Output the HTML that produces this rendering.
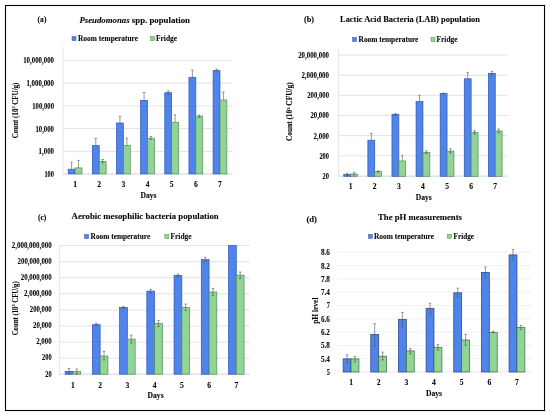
<!DOCTYPE html>
<html><head><meta charset="utf-8"><style>
html,body{margin:0;padding:0;background:#fff;}
body{width:550px;height:416px;overflow:hidden;position:relative;}
svg{position:absolute;left:0;top:0;will-change:transform;}
text{font-family:"Liberation Serif", serif;fill:#000;stroke:#000;stroke-width:0.08px;}
</style></head><body>
<svg width="550" height="416" viewBox="0 0 550 416">
<rect x="5.5" y="5.5" width="539" height="405" fill="none" stroke="#000" stroke-width="1.1"/>
<line x1="63.00" y1="174.10" x2="232.05" y2="174.10" stroke="#E2E2E2" stroke-width="1.0"/>
<text x="54.00" y="177.00" font-size="7.6" text-anchor="end" font-weight="bold" textLength="9.60" lengthAdjust="spacingAndGlyphs">100</text>
<line x1="63.00" y1="151.36" x2="232.05" y2="151.36" stroke="#E2E2E2" stroke-width="1.0"/>
<text x="54.00" y="154.26" font-size="7.6" text-anchor="end" font-weight="bold" textLength="15.40" lengthAdjust="spacingAndGlyphs">1,000</text>
<line x1="63.00" y1="128.62" x2="232.05" y2="128.62" stroke="#E2E2E2" stroke-width="1.0"/>
<text x="54.00" y="131.52" font-size="7.6" text-anchor="end" font-weight="bold" textLength="18.60" lengthAdjust="spacingAndGlyphs">10,000</text>
<line x1="63.00" y1="105.88" x2="232.05" y2="105.88" stroke="#E2E2E2" stroke-width="1.0"/>
<text x="54.00" y="108.78" font-size="7.6" text-anchor="end" font-weight="bold" textLength="21.80" lengthAdjust="spacingAndGlyphs">100,000</text>
<line x1="63.00" y1="83.14" x2="232.05" y2="83.14" stroke="#E2E2E2" stroke-width="1.0"/>
<text x="54.00" y="86.04" font-size="7.6" text-anchor="end" font-weight="bold" textLength="27.60" lengthAdjust="spacingAndGlyphs">1,000,000</text>
<line x1="63.00" y1="60.40" x2="232.05" y2="60.40" stroke="#E2E2E2" stroke-width="1.0"/>
<text x="54.00" y="63.30" font-size="7.6" text-anchor="end" font-weight="bold" textLength="30.80" lengthAdjust="spacingAndGlyphs">10,000,000</text>
<line x1="63.00" y1="47.30" x2="63.00" y2="173.90" stroke="#E2E2E2" stroke-width="0.9"/>
<line x1="63.00" y1="173.90" x2="232.05" y2="173.90" stroke="#E2E2E2" stroke-width="1.0"/>
<rect x="68.17" y="169.20" width="6.90" height="4.70" fill="#4F84EA" stroke="#2E56B5" stroke-width="0.7"/>
<rect x="75.08" y="167.90" width="6.90" height="6.00" fill="#91D495" stroke="#4F8F55" stroke-width="0.7"/>
<path d="M71.62 162.10V169.20M70.42 162.10H72.83" stroke="#555555" stroke-width="0.6" fill="none"/>
<path d="M78.53 160.40V167.90M77.33 160.40H79.73" stroke="#555555" stroke-width="0.6" fill="none"/>
<text x="75.08" y="186.60" font-size="7.6" text-anchor="middle" font-weight="bold">1</text>
<rect x="92.32" y="145.60" width="6.90" height="28.30" fill="#4F84EA" stroke="#2E56B5" stroke-width="0.7"/>
<rect x="99.22" y="161.30" width="6.90" height="12.60" fill="#91D495" stroke="#4F8F55" stroke-width="0.7"/>
<path d="M95.77 138.40V145.60M94.57 138.40H96.97" stroke="#555555" stroke-width="0.6" fill="none"/>
<path d="M102.67 159.50V163.00M101.47 159.50H103.88M101.47 163.00H103.88" stroke="#555555" stroke-width="0.6" fill="none"/>
<text x="99.22" y="186.60" font-size="7.6" text-anchor="middle" font-weight="bold">2</text>
<rect x="116.47" y="123.00" width="6.90" height="50.90" fill="#4F84EA" stroke="#2E56B5" stroke-width="0.7"/>
<rect x="123.38" y="145.60" width="6.90" height="28.30" fill="#91D495" stroke="#4F8F55" stroke-width="0.7"/>
<path d="M119.92 116.30V123.00M118.72 116.30H121.12" stroke="#555555" stroke-width="0.6" fill="none"/>
<path d="M126.83 138.10V145.60M125.62 138.10H128.03" stroke="#555555" stroke-width="0.6" fill="none"/>
<text x="123.38" y="186.60" font-size="7.6" text-anchor="middle" font-weight="bold">3</text>
<rect x="140.62" y="100.40" width="6.90" height="73.50" fill="#4F84EA" stroke="#2E56B5" stroke-width="0.7"/>
<rect x="147.53" y="138.20" width="6.90" height="35.70" fill="#91D495" stroke="#4F8F55" stroke-width="0.7"/>
<path d="M144.08 92.50V100.40M142.88 92.50H145.28" stroke="#555555" stroke-width="0.6" fill="none"/>
<path d="M150.97 136.50V139.50M149.78 136.50H152.17M149.78 139.50H152.17" stroke="#555555" stroke-width="0.6" fill="none"/>
<text x="147.53" y="186.60" font-size="7.6" text-anchor="middle" font-weight="bold">4</text>
<rect x="164.78" y="92.70" width="6.90" height="81.20" fill="#4F84EA" stroke="#2E56B5" stroke-width="0.7"/>
<rect x="171.68" y="122.30" width="6.90" height="51.60" fill="#91D495" stroke="#4F8F55" stroke-width="0.7"/>
<path d="M168.23 90.80V94.50M167.03 90.80H169.43M167.03 94.50H169.43" stroke="#555555" stroke-width="0.6" fill="none"/>
<path d="M175.12 114.90V122.30M173.93 114.90H176.32" stroke="#555555" stroke-width="0.6" fill="none"/>
<text x="171.68" y="186.60" font-size="7.6" text-anchor="middle" font-weight="bold">5</text>
<rect x="188.93" y="77.30" width="6.90" height="96.60" fill="#4F84EA" stroke="#2E56B5" stroke-width="0.7"/>
<rect x="195.83" y="116.10" width="6.90" height="57.80" fill="#91D495" stroke="#4F8F55" stroke-width="0.7"/>
<path d="M192.38 70.00V77.30M191.18 70.00H193.58" stroke="#555555" stroke-width="0.6" fill="none"/>
<path d="M199.28 114.90V117.50M198.08 114.90H200.47M198.08 117.50H200.47" stroke="#555555" stroke-width="0.6" fill="none"/>
<text x="195.83" y="186.60" font-size="7.6" text-anchor="middle" font-weight="bold">6</text>
<rect x="213.08" y="70.50" width="6.90" height="103.40" fill="#4F84EA" stroke="#2E56B5" stroke-width="0.7"/>
<rect x="219.98" y="100.00" width="6.90" height="73.90" fill="#91D495" stroke="#4F8F55" stroke-width="0.7"/>
<path d="M216.53 69.10V72.00M215.33 69.10H217.73M215.33 72.00H217.73" stroke="#555555" stroke-width="0.6" fill="none"/>
<path d="M223.43 92.00V100.00M222.23 92.00H224.62" stroke="#555555" stroke-width="0.6" fill="none"/>
<text x="219.98" y="186.60" font-size="7.6" text-anchor="middle" font-weight="bold">7</text>
<text x="148.50" y="197.90" font-size="7.6" text-anchor="middle" font-weight="bold">Days</text>
<text transform="translate(17.80,110.40) rotate(-90)" x="0" y="0" font-size="7.6" text-anchor="middle" font-weight="bold" textLength="55.6" lengthAdjust="spacingAndGlyphs">Count (10<tspan dy="-2.6" font-size="4.8">3</tspan><tspan dy="2.6"> CFU/g)</tspan></text>
<text x="37.60" y="22.20" font-size="7.6" text-anchor="start" font-weight="bold" textLength="8.8" lengthAdjust="spacingAndGlyphs">(a)</text>
<text x="79.4" y="22.5" font-size="8.4" font-weight="bold" textLength="110.6" lengthAdjust="spacingAndGlyphs"><tspan font-style="italic">Pseudomonas</tspan> spp. population</text>
<rect x="72.00" y="36.60" width="4.0" height="4.0" fill="#4F84EA" stroke="#2E56B5" stroke-width="0.5"/>
<text x="78.00" y="41.20" font-size="7.6" text-anchor="start" font-weight="bold" textLength="60.0" lengthAdjust="spacingAndGlyphs">Room temperature</text>
<rect x="150.60" y="36.60" width="4.0" height="4.0" fill="#91D495" stroke="#4F8F55" stroke-width="0.5"/>
<text x="156.00" y="41.20" font-size="7.6" text-anchor="start" font-weight="bold" textLength="21.0" lengthAdjust="spacingAndGlyphs">Fridge</text>
<line x1="338.60" y1="176.00" x2="507.30" y2="176.00" stroke="#E2E2E2" stroke-width="1.0"/>
<text x="329.00" y="178.90" font-size="7.6" text-anchor="end" font-weight="bold" textLength="6.40" lengthAdjust="spacingAndGlyphs">20</text>
<line x1="338.60" y1="155.83" x2="507.30" y2="155.83" stroke="#E2E2E2" stroke-width="1.0"/>
<text x="329.00" y="158.73" font-size="7.6" text-anchor="end" font-weight="bold" textLength="9.60" lengthAdjust="spacingAndGlyphs">200</text>
<line x1="338.60" y1="135.66" x2="507.30" y2="135.66" stroke="#E2E2E2" stroke-width="1.0"/>
<text x="329.00" y="138.56" font-size="7.6" text-anchor="end" font-weight="bold" textLength="15.40" lengthAdjust="spacingAndGlyphs">2,000</text>
<line x1="338.60" y1="115.49" x2="507.30" y2="115.49" stroke="#E2E2E2" stroke-width="1.0"/>
<text x="329.00" y="118.39" font-size="7.6" text-anchor="end" font-weight="bold" textLength="18.60" lengthAdjust="spacingAndGlyphs">20,000</text>
<line x1="338.60" y1="95.32" x2="507.30" y2="95.32" stroke="#E2E2E2" stroke-width="1.0"/>
<text x="329.00" y="98.22" font-size="7.6" text-anchor="end" font-weight="bold" textLength="21.80" lengthAdjust="spacingAndGlyphs">200,000</text>
<line x1="338.60" y1="75.15" x2="507.30" y2="75.15" stroke="#E2E2E2" stroke-width="1.0"/>
<text x="329.00" y="78.05" font-size="7.6" text-anchor="end" font-weight="bold" textLength="27.60" lengthAdjust="spacingAndGlyphs">2,000,000</text>
<line x1="338.60" y1="54.98" x2="507.30" y2="54.98" stroke="#E2E2E2" stroke-width="1.0"/>
<text x="329.00" y="57.88" font-size="7.6" text-anchor="end" font-weight="bold" textLength="30.80" lengthAdjust="spacingAndGlyphs">20,000,000</text>
<line x1="338.60" y1="49.60" x2="338.60" y2="176.30" stroke="#E2E2E2" stroke-width="0.9"/>
<line x1="338.60" y1="176.30" x2="507.30" y2="176.30" stroke="#E2E2E2" stroke-width="1.0"/>
<rect x="343.76" y="174.50" width="6.89" height="1.80" fill="#4F84EA" stroke="#2E56B5" stroke-width="0.7"/>
<rect x="350.65" y="174.00" width="6.89" height="2.30" fill="#91D495" stroke="#4F8F55" stroke-width="0.7"/>
<path d="M347.21 173.30V175.50M346.01 173.30H348.41M346.01 175.50H348.41" stroke="#555555" stroke-width="0.6" fill="none"/>
<path d="M354.09 172.30V175.00M352.89 172.30H355.29M352.89 175.00H355.29" stroke="#555555" stroke-width="0.6" fill="none"/>
<text x="350.65" y="189.10" font-size="7.6" text-anchor="middle" font-weight="bold">1</text>
<rect x="367.86" y="140.20" width="6.89" height="36.10" fill="#4F84EA" stroke="#2E56B5" stroke-width="0.7"/>
<rect x="374.75" y="171.50" width="6.89" height="4.80" fill="#91D495" stroke="#4F8F55" stroke-width="0.7"/>
<path d="M371.31 133.60V140.20M370.11 133.60H372.51" stroke="#555555" stroke-width="0.6" fill="none"/>
<path d="M378.19 170.90V172.20M376.99 170.90H379.39M376.99 172.20H379.39" stroke="#555555" stroke-width="0.6" fill="none"/>
<text x="374.75" y="189.10" font-size="7.6" text-anchor="middle" font-weight="bold">2</text>
<rect x="391.96" y="114.40" width="6.89" height="61.90" fill="#4F84EA" stroke="#2E56B5" stroke-width="0.7"/>
<rect x="398.85" y="161.00" width="6.89" height="15.30" fill="#91D495" stroke="#4F8F55" stroke-width="0.7"/>
<path d="M395.41 113.40V115.50M394.21 113.40H396.61M394.21 115.50H396.61" stroke="#555555" stroke-width="0.6" fill="none"/>
<path d="M402.29 155.40V161.00M401.09 155.40H403.49" stroke="#555555" stroke-width="0.6" fill="none"/>
<text x="398.85" y="189.10" font-size="7.6" text-anchor="middle" font-weight="bold">3</text>
<rect x="416.06" y="101.50" width="6.89" height="74.80" fill="#4F84EA" stroke="#2E56B5" stroke-width="0.7"/>
<rect x="422.95" y="152.40" width="6.89" height="23.90" fill="#91D495" stroke="#4F8F55" stroke-width="0.7"/>
<path d="M419.51 95.30V101.50M418.31 95.30H420.71" stroke="#555555" stroke-width="0.6" fill="none"/>
<path d="M426.39 150.80V153.60M425.19 150.80H427.59M425.19 153.60H427.59" stroke="#555555" stroke-width="0.6" fill="none"/>
<text x="422.95" y="189.10" font-size="7.6" text-anchor="middle" font-weight="bold">4</text>
<rect x="440.16" y="93.50" width="6.89" height="82.80" fill="#4F84EA" stroke="#2E56B5" stroke-width="0.7"/>
<rect x="447.05" y="151.10" width="6.89" height="25.20" fill="#91D495" stroke="#4F8F55" stroke-width="0.7"/>
<path d="M443.61 93.00V94.00M442.41 93.00H444.81M442.41 94.00H444.81" stroke="#555555" stroke-width="0.6" fill="none"/>
<path d="M450.49 148.70V153.00M449.29 148.70H451.69M449.29 153.00H451.69" stroke="#555555" stroke-width="0.6" fill="none"/>
<text x="447.05" y="189.10" font-size="7.6" text-anchor="middle" font-weight="bold">5</text>
<rect x="464.26" y="78.80" width="6.89" height="97.50" fill="#4F84EA" stroke="#2E56B5" stroke-width="0.7"/>
<rect x="471.15" y="132.40" width="6.89" height="43.90" fill="#91D495" stroke="#4F8F55" stroke-width="0.7"/>
<path d="M467.71 72.40V78.80M466.51 72.40H468.91" stroke="#555555" stroke-width="0.6" fill="none"/>
<path d="M474.59 130.60V134.40M473.39 130.60H475.79M473.39 134.40H475.79" stroke="#555555" stroke-width="0.6" fill="none"/>
<text x="471.15" y="189.10" font-size="7.6" text-anchor="middle" font-weight="bold">6</text>
<rect x="488.36" y="73.30" width="6.89" height="103.00" fill="#4F84EA" stroke="#2E56B5" stroke-width="0.7"/>
<rect x="495.25" y="131.00" width="6.89" height="45.30" fill="#91D495" stroke="#4F8F55" stroke-width="0.7"/>
<path d="M491.81 71.30V75.10M490.61 71.30H493.01M490.61 75.10H493.01" stroke="#555555" stroke-width="0.6" fill="none"/>
<path d="M498.69 129.00V133.00M497.49 129.00H499.89M497.49 133.00H499.89" stroke="#555555" stroke-width="0.6" fill="none"/>
<text x="495.25" y="189.10" font-size="7.6" text-anchor="middle" font-weight="bold">7</text>
<text x="423.70" y="199.60" font-size="7.6" text-anchor="middle" font-weight="bold">Days</text>
<text transform="translate(292.10,111.70) rotate(-90)" x="0" y="0" font-size="7.6" text-anchor="middle" font-weight="bold" textLength="58.6" lengthAdjust="spacingAndGlyphs">Count (10<tspan dy="-2.6" font-size="4.8">3</tspan><tspan dy="2.6"> CFU/g)</tspan></text>
<text x="304.00" y="22.20" font-size="7.6" text-anchor="start" font-weight="bold" textLength="10.0" lengthAdjust="spacingAndGlyphs">(b)</text>
<text x="340.0" y="22.2" font-size="8.4" font-weight="bold" textLength="140.0" lengthAdjust="spacingAndGlyphs">Lactic Acid Bacteria (LAB) population</text>
<rect x="352.60" y="37.50" width="4.0" height="4.0" fill="#4F84EA" stroke="#2E56B5" stroke-width="0.5"/>
<text x="358.60" y="42.10" font-size="7.6" text-anchor="start" font-weight="bold" textLength="59.8" lengthAdjust="spacingAndGlyphs">Room temperature</text>
<rect x="431.00" y="37.50" width="4.0" height="4.0" fill="#91D495" stroke="#4F8F55" stroke-width="0.5"/>
<text x="436.60" y="42.10" font-size="7.6" text-anchor="start" font-weight="bold" textLength="20.8" lengthAdjust="spacingAndGlyphs">Fridge</text>
<line x1="59.30" y1="374.20" x2="249.90" y2="374.20" stroke="#E2E2E2" stroke-width="1.0"/>
<text x="51.60" y="376.50" font-size="7.6" text-anchor="end" font-weight="bold" textLength="6.40" lengthAdjust="spacingAndGlyphs">20</text>
<line x1="59.30" y1="358.13" x2="249.90" y2="358.13" stroke="#E2E2E2" stroke-width="1.0"/>
<text x="51.60" y="360.43" font-size="7.6" text-anchor="end" font-weight="bold" textLength="9.60" lengthAdjust="spacingAndGlyphs">200</text>
<line x1="59.30" y1="342.06" x2="249.90" y2="342.06" stroke="#E2E2E2" stroke-width="1.0"/>
<text x="51.60" y="344.36" font-size="7.6" text-anchor="end" font-weight="bold" textLength="15.40" lengthAdjust="spacingAndGlyphs">2,000</text>
<line x1="59.30" y1="325.99" x2="249.90" y2="325.99" stroke="#E2E2E2" stroke-width="1.0"/>
<text x="51.60" y="328.29" font-size="7.6" text-anchor="end" font-weight="bold" textLength="18.60" lengthAdjust="spacingAndGlyphs">20,000</text>
<line x1="59.30" y1="309.92" x2="249.90" y2="309.92" stroke="#E2E2E2" stroke-width="1.0"/>
<text x="51.60" y="312.22" font-size="7.6" text-anchor="end" font-weight="bold" textLength="21.80" lengthAdjust="spacingAndGlyphs">200,000</text>
<line x1="59.30" y1="293.85" x2="249.90" y2="293.85" stroke="#E2E2E2" stroke-width="1.0"/>
<text x="51.60" y="296.15" font-size="7.6" text-anchor="end" font-weight="bold" textLength="27.60" lengthAdjust="spacingAndGlyphs">2,000,000</text>
<line x1="59.30" y1="277.78" x2="249.90" y2="277.78" stroke="#E2E2E2" stroke-width="1.0"/>
<text x="51.60" y="280.08" font-size="7.6" text-anchor="end" font-weight="bold" textLength="30.80" lengthAdjust="spacingAndGlyphs">20,000,000</text>
<line x1="59.30" y1="261.71" x2="249.90" y2="261.71" stroke="#E2E2E2" stroke-width="1.0"/>
<text x="51.60" y="264.01" font-size="7.6" text-anchor="end" font-weight="bold" textLength="34.00" lengthAdjust="spacingAndGlyphs">200,000,000</text>
<line x1="59.30" y1="245.64" x2="249.90" y2="245.64" stroke="#E2E2E2" stroke-width="1.0"/>
<text x="51.60" y="247.94" font-size="7.6" text-anchor="end" font-weight="bold" textLength="39.80" lengthAdjust="spacingAndGlyphs">2,000,000,000</text>
<line x1="59.30" y1="245.60" x2="59.30" y2="374.20" stroke="#E2E2E2" stroke-width="0.9"/>
<line x1="59.30" y1="374.20" x2="249.90" y2="374.20" stroke="#E2E2E2" stroke-width="1.0"/>
<rect x="65.13" y="371.30" width="7.78" height="2.90" fill="#4F84EA" stroke="#2E56B5" stroke-width="0.7"/>
<rect x="72.91" y="371.30" width="7.78" height="2.90" fill="#91D495" stroke="#4F8F55" stroke-width="0.7"/>
<path d="M69.02 368.50V374.00M67.82 368.50H70.22M67.82 374.00H70.22" stroke="#555555" stroke-width="0.6" fill="none"/>
<path d="M76.80 369.00V374.00M75.60 369.00H78.00M75.60 374.00H78.00" stroke="#555555" stroke-width="0.6" fill="none"/>
<text x="72.91" y="387.60" font-size="7.6" text-anchor="middle" font-weight="bold">1</text>
<rect x="92.36" y="324.70" width="7.78" height="49.50" fill="#4F84EA" stroke="#2E56B5" stroke-width="0.7"/>
<rect x="100.14" y="356.00" width="7.78" height="18.20" fill="#91D495" stroke="#4F8F55" stroke-width="0.7"/>
<path d="M96.25 323.30V326.00M95.05 323.30H97.45M95.05 326.00H97.45" stroke="#555555" stroke-width="0.6" fill="none"/>
<path d="M104.03 351.50V360.00M102.83 351.50H105.23M102.83 360.00H105.23" stroke="#555555" stroke-width="0.6" fill="none"/>
<text x="100.14" y="387.60" font-size="7.6" text-anchor="middle" font-weight="bold">2</text>
<rect x="119.59" y="307.40" width="7.78" height="66.80" fill="#4F84EA" stroke="#2E56B5" stroke-width="0.7"/>
<rect x="127.37" y="339.10" width="7.78" height="35.10" fill="#91D495" stroke="#4F8F55" stroke-width="0.7"/>
<path d="M123.48 306.40V308.50M122.28 306.40H124.68M122.28 308.50H124.68" stroke="#555555" stroke-width="0.6" fill="none"/>
<path d="M131.26 335.00V343.00M130.06 335.00H132.46M130.06 343.00H132.46" stroke="#555555" stroke-width="0.6" fill="none"/>
<text x="127.37" y="387.60" font-size="7.6" text-anchor="middle" font-weight="bold">3</text>
<rect x="146.82" y="291.10" width="7.78" height="83.10" fill="#4F84EA" stroke="#2E56B5" stroke-width="0.7"/>
<rect x="154.60" y="323.50" width="7.78" height="50.70" fill="#91D495" stroke="#4F8F55" stroke-width="0.7"/>
<path d="M150.71 289.30V293.00M149.51 289.30H151.91M149.51 293.00H151.91" stroke="#555555" stroke-width="0.6" fill="none"/>
<path d="M158.49 320.60V326.50M157.29 320.60H159.69M157.29 326.50H159.69" stroke="#555555" stroke-width="0.6" fill="none"/>
<text x="154.60" y="387.60" font-size="7.6" text-anchor="middle" font-weight="bold">4</text>
<rect x="174.05" y="275.40" width="7.78" height="98.80" fill="#4F84EA" stroke="#2E56B5" stroke-width="0.7"/>
<rect x="181.83" y="307.30" width="7.78" height="66.90" fill="#91D495" stroke="#4F8F55" stroke-width="0.7"/>
<path d="M177.94 274.00V277.00M176.74 274.00H179.14M176.74 277.00H179.14" stroke="#555555" stroke-width="0.6" fill="none"/>
<path d="M185.72 304.00V310.50M184.52 304.00H186.92M184.52 310.50H186.92" stroke="#555555" stroke-width="0.6" fill="none"/>
<text x="181.83" y="387.60" font-size="7.6" text-anchor="middle" font-weight="bold">5</text>
<rect x="201.28" y="259.60" width="7.78" height="114.60" fill="#4F84EA" stroke="#2E56B5" stroke-width="0.7"/>
<rect x="209.06" y="292.00" width="7.78" height="82.20" fill="#91D495" stroke="#4F8F55" stroke-width="0.7"/>
<path d="M205.17 257.50V261.50M203.97 257.50H206.37M203.97 261.50H206.37" stroke="#555555" stroke-width="0.6" fill="none"/>
<path d="M212.95 288.50V295.50M211.75 288.50H214.15M211.75 295.50H214.15" stroke="#555555" stroke-width="0.6" fill="none"/>
<text x="209.06" y="387.60" font-size="7.6" text-anchor="middle" font-weight="bold">6</text>
<rect x="228.51" y="245.60" width="7.78" height="128.60" fill="#4F84EA" stroke="#2E56B5" stroke-width="0.7"/>
<rect x="236.29" y="275.20" width="7.78" height="99.00" fill="#91D495" stroke="#4F8F55" stroke-width="0.7"/>
<path d="M240.18 272.00V278.50M238.98 272.00H241.38M238.98 278.50H241.38" stroke="#555555" stroke-width="0.6" fill="none"/>
<text x="236.29" y="387.60" font-size="7.6" text-anchor="middle" font-weight="bold">7</text>
<text x="155.60" y="398.10" font-size="7.6" text-anchor="middle" font-weight="bold">Days</text>
<text transform="translate(17.60,308.30) rotate(-90)" x="0" y="0" font-size="7.6" text-anchor="middle" font-weight="bold" textLength="54.0" lengthAdjust="spacingAndGlyphs">Count (10<tspan dy="-2.6" font-size="4.8">3</tspan><tspan dy="2.6"> CFU/g)</tspan></text>
<text x="38.00" y="219.80" font-size="7.2" text-anchor="start" font-weight="bold" textLength="8.4" lengthAdjust="spacingAndGlyphs">(c)</text>
<text x="71.6" y="218.6" font-size="8.4" font-weight="bold" textLength="147.1" lengthAdjust="spacingAndGlyphs">Aerobic mesophilic bacteria population</text>
<rect x="84.60" y="234.60" width="4.0" height="4.0" fill="#4F84EA" stroke="#2E56B5" stroke-width="0.5"/>
<text x="90.60" y="239.20" font-size="7.6" text-anchor="start" font-weight="bold" textLength="59.6" lengthAdjust="spacingAndGlyphs">Room temperature</text>
<rect x="164.80" y="234.60" width="4.0" height="4.0" fill="#91D495" stroke="#4F8F55" stroke-width="0.5"/>
<text x="170.50" y="239.20" font-size="7.6" text-anchor="start" font-weight="bold" textLength="21.1" lengthAdjust="spacingAndGlyphs">Fridge</text>
<line x1="337.20" y1="372.00" x2="530.80" y2="372.00" stroke="#EFEFEF" stroke-width="1.0"/>
<text x="329.90" y="374.90" font-size="7.6" text-anchor="end" font-weight="bold" textLength="3.20" lengthAdjust="spacingAndGlyphs">5</text>
<line x1="337.20" y1="358.70" x2="530.80" y2="358.70" stroke="#EFEFEF" stroke-width="1.0"/>
<text x="329.90" y="361.60" font-size="7.6" text-anchor="end" font-weight="bold" textLength="9.00" lengthAdjust="spacingAndGlyphs">5.4</text>
<line x1="337.20" y1="345.40" x2="530.80" y2="345.40" stroke="#EFEFEF" stroke-width="1.0"/>
<text x="329.90" y="348.30" font-size="7.6" text-anchor="end" font-weight="bold" textLength="9.00" lengthAdjust="spacingAndGlyphs">5.8</text>
<line x1="337.20" y1="332.10" x2="530.80" y2="332.10" stroke="#EFEFEF" stroke-width="1.0"/>
<text x="329.90" y="335.00" font-size="7.6" text-anchor="end" font-weight="bold" textLength="9.00" lengthAdjust="spacingAndGlyphs">6.2</text>
<line x1="337.20" y1="318.80" x2="530.80" y2="318.80" stroke="#EFEFEF" stroke-width="1.0"/>
<text x="329.90" y="321.70" font-size="7.6" text-anchor="end" font-weight="bold" textLength="9.00" lengthAdjust="spacingAndGlyphs">6.6</text>
<line x1="337.20" y1="305.50" x2="530.80" y2="305.50" stroke="#EFEFEF" stroke-width="1.0"/>
<text x="329.90" y="308.40" font-size="7.6" text-anchor="end" font-weight="bold" textLength="3.20" lengthAdjust="spacingAndGlyphs">7</text>
<line x1="337.20" y1="292.20" x2="530.80" y2="292.20" stroke="#EFEFEF" stroke-width="1.0"/>
<text x="329.90" y="295.10" font-size="7.6" text-anchor="end" font-weight="bold" textLength="9.00" lengthAdjust="spacingAndGlyphs">7.4</text>
<line x1="337.20" y1="278.90" x2="530.80" y2="278.90" stroke="#EFEFEF" stroke-width="1.0"/>
<text x="329.90" y="281.80" font-size="7.6" text-anchor="end" font-weight="bold" textLength="9.00" lengthAdjust="spacingAndGlyphs">7.8</text>
<line x1="337.20" y1="265.60" x2="530.80" y2="265.60" stroke="#EFEFEF" stroke-width="1.0"/>
<text x="329.90" y="268.50" font-size="7.6" text-anchor="end" font-weight="bold" textLength="9.00" lengthAdjust="spacingAndGlyphs">8.2</text>
<line x1="337.20" y1="252.30" x2="530.80" y2="252.30" stroke="#EFEFEF" stroke-width="1.0"/>
<text x="329.90" y="255.20" font-size="7.6" text-anchor="end" font-weight="bold" textLength="9.00" lengthAdjust="spacingAndGlyphs">8.6</text>
<line x1="337.20" y1="372.00" x2="530.80" y2="372.00" stroke="#EFEFEF" stroke-width="1.0"/>
<rect x="343.13" y="358.90" width="7.90" height="13.10" fill="#4F84EA" stroke="#2A4688" stroke-width="0.75"/>
<rect x="351.03" y="358.90" width="7.90" height="13.10" fill="#91D495" stroke="#3F7346" stroke-width="0.75"/>
<path d="M347.08 354.80V363.00M345.88 354.80H348.28M345.88 363.00H348.28" stroke="#555555" stroke-width="0.6" fill="none"/>
<path d="M354.98 356.50V362.00M353.78 356.50H356.18M353.78 362.00H356.18" stroke="#555555" stroke-width="0.6" fill="none"/>
<text x="351.03" y="384.80" font-size="7.6" text-anchor="middle" font-weight="bold">1</text>
<rect x="370.78" y="334.50" width="7.90" height="37.50" fill="#4F84EA" stroke="#2A4688" stroke-width="0.75"/>
<rect x="378.69" y="356.20" width="7.90" height="15.80" fill="#91D495" stroke="#3F7346" stroke-width="0.75"/>
<path d="M374.73 323.70V346.10M373.53 323.70H375.93M373.53 346.10H375.93" stroke="#555555" stroke-width="0.6" fill="none"/>
<path d="M382.64 352.10V360.00M381.44 352.10H383.84M381.44 360.00H383.84" stroke="#555555" stroke-width="0.6" fill="none"/>
<text x="378.69" y="384.80" font-size="7.6" text-anchor="middle" font-weight="bold">2</text>
<rect x="398.44" y="319.60" width="7.90" height="52.40" fill="#4F84EA" stroke="#2A4688" stroke-width="0.75"/>
<rect x="406.34" y="350.90" width="7.90" height="21.10" fill="#91D495" stroke="#3F7346" stroke-width="0.75"/>
<path d="M402.39 312.40V327.30M401.19 312.40H403.59M401.19 327.30H403.59" stroke="#555555" stroke-width="0.6" fill="none"/>
<path d="M410.29 348.50V353.80M409.09 348.50H411.49M409.09 353.80H411.49" stroke="#555555" stroke-width="0.6" fill="none"/>
<text x="406.34" y="384.80" font-size="7.6" text-anchor="middle" font-weight="bold">3</text>
<rect x="426.10" y="308.30" width="7.90" height="63.70" fill="#4F84EA" stroke="#2A4688" stroke-width="0.75"/>
<rect x="434.00" y="347.30" width="7.90" height="24.70" fill="#91D495" stroke="#3F7346" stroke-width="0.75"/>
<path d="M430.05 303.30V314.10M428.85 303.30H431.25M428.85 314.10H431.25" stroke="#555555" stroke-width="0.6" fill="none"/>
<path d="M437.95 344.40V350.00M436.75 344.40H439.15M436.75 350.00H439.15" stroke="#555555" stroke-width="0.6" fill="none"/>
<text x="434.00" y="384.80" font-size="7.6" text-anchor="middle" font-weight="bold">4</text>
<rect x="453.76" y="292.80" width="7.90" height="79.20" fill="#4F84EA" stroke="#2A4688" stroke-width="0.75"/>
<rect x="461.66" y="340.00" width="7.90" height="32.00" fill="#91D495" stroke="#3F7346" stroke-width="0.75"/>
<path d="M457.71 288.10V296.90M456.51 288.10H458.91M456.51 296.90H458.91" stroke="#555555" stroke-width="0.6" fill="none"/>
<path d="M465.61 334.40V345.30M464.41 334.40H466.81M464.41 345.30H466.81" stroke="#555555" stroke-width="0.6" fill="none"/>
<text x="461.66" y="384.80" font-size="7.6" text-anchor="middle" font-weight="bold">5</text>
<rect x="481.41" y="272.50" width="7.90" height="99.50" fill="#4F84EA" stroke="#2A4688" stroke-width="0.75"/>
<rect x="489.31" y="332.60" width="7.90" height="39.40" fill="#91D495" stroke="#3F7346" stroke-width="0.75"/>
<path d="M485.36 267.10V278.20M484.16 267.10H486.56M484.16 278.20H486.56" stroke="#555555" stroke-width="0.6" fill="none"/>
<path d="M493.27 331.20V332.60M492.07 331.20H494.47M492.07 332.60H494.47" stroke="#555555" stroke-width="0.6" fill="none"/>
<text x="489.31" y="384.80" font-size="7.6" text-anchor="middle" font-weight="bold">6</text>
<rect x="509.07" y="254.90" width="7.90" height="117.10" fill="#4F84EA" stroke="#2A4688" stroke-width="0.75"/>
<rect x="516.97" y="327.50" width="7.90" height="44.50" fill="#91D495" stroke="#3F7346" stroke-width="0.75"/>
<path d="M513.02 249.40V259.90M511.82 249.40H514.22M511.82 259.90H514.22" stroke="#555555" stroke-width="0.6" fill="none"/>
<path d="M520.92 325.50V329.50M519.72 325.50H522.12M519.72 329.50H522.12" stroke="#555555" stroke-width="0.6" fill="none"/>
<text x="516.97" y="384.80" font-size="7.6" text-anchor="middle" font-weight="bold">7</text>
<text x="434.00" y="395.60" font-size="7.6" text-anchor="middle" font-weight="bold">Days</text>
<text transform="translate(318.00,310.70) rotate(-90)" x="0" y="0" font-size="7.6" text-anchor="middle" font-weight="bold" textLength="26.3" lengthAdjust="spacingAndGlyphs">pH level</text>
<text x="306.40" y="222.20" font-size="7.6" text-anchor="start" font-weight="bold" textLength="10.6" lengthAdjust="spacingAndGlyphs">(d)</text>
<text x="378.0" y="220.4" font-size="8.4" font-weight="bold" textLength="84.0" lengthAdjust="spacingAndGlyphs">The pH measurements</text>
<rect x="368.40" y="234.40" width="4.0" height="4.0" fill="#4F84EA" stroke="#2E56B5" stroke-width="0.5"/>
<text x="374.00" y="239.00" font-size="7.6" text-anchor="start" font-weight="bold" textLength="60.0" lengthAdjust="spacingAndGlyphs">Room temperature</text>
<rect x="447.60" y="234.40" width="4.0" height="4.0" fill="#91D495" stroke="#4F8F55" stroke-width="0.5"/>
<text x="453.60" y="239.00" font-size="7.6" text-anchor="start" font-weight="bold" textLength="20.4" lengthAdjust="spacingAndGlyphs">Fridge</text>
</svg>
</body></html>
